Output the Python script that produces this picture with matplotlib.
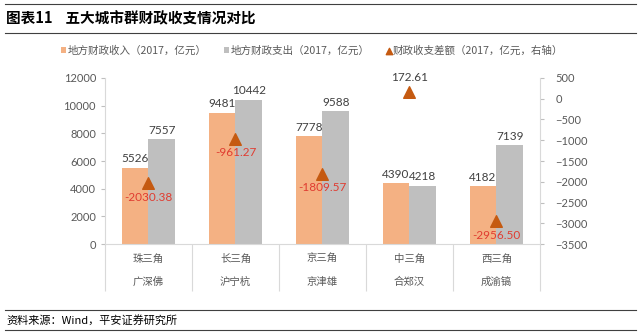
import matplotlib
matplotlib.use("Agg")
import matplotlib.pyplot as plt
import numpy as np
from matplotlib.lines import Line2D

plt.rcParams['font.family'] = ['Noto Sans CJK SC', 'DejaVu Sans']

# 数据
regions = ['珠三角', '长三角', '京三角', '中三角', '西三角']
cities = ['广深佛', '沪宁杭', '京津雄', '合郑汉', '成渝镐']
revenue = [5526, 9481, 7778, 4390, 4182]
expense = [7557, 10442, 9588, 4218, 7139]
gap = [-2030.38, -961.27, -1809.57, 172.61, -2956.50]
gap_labels = ['-2030.38', '-961.27', '-1809.57', '172.61', '-2956.50']

c_rev = '#F4B183'
c_exp = '#BFBFBF'
c_gap = '#C55A11'
txt = '#404040'
num_font = ['Lato', 'DejaVu Sans']

fig = plt.figure(figsize=(6.41, 3.35), dpi=100)

# 标题与分隔线
fig.add_artist(Line2D([0.008, 0.992], [0.988, 0.988], color='#404040', lw=0.8))
fig.add_artist(Line2D([0.008, 0.992], [0.902, 0.902], color='#404040', lw=0.8))
fig.text(0.01, 0.946, '图表11    五大城市群财政收支情况对比', fontsize=10.5,
         fontweight='bold', va='center', ha='left', color='#000000')
fig.add_artist(Line2D([0.008, 0.992], [0.075, 0.075], color='#404040', lw=0.8))
fig.add_artist(Line2D([0.008, 0.992], [0.014, 0.014], color='#404040', lw=0.8))
fig.text(0.01, 0.045, '资料来源：Wind，平安证券研究所', fontsize=8, style='italic',
         va='center', ha='left', color='#000000')

ax = fig.add_axes([0.1638, 0.2716, 0.6786, 0.4956])
x = np.arange(len(regions))
w = 0.31
b1 = ax.bar(x - w / 2, revenue, w, color=c_rev, label='地方财政收入（2017，亿元）', zorder=2)
b2 = ax.bar(x + w / 2, expense, w, color=c_exp, label='地方财政支出（2017，亿元）', zorder=2)

for xi, v in zip(x, revenue):
    ax.text(xi - w / 2, v + 250, str(v), ha='center', va='bottom', fontsize=8.5,
            color=txt, family=num_font)
for xi, v in zip(x, expense):
    ax.text(xi + w / 2, v + 250, str(v), ha='center', va='bottom', fontsize=8.5,
            color=txt, family=num_font)

ax.set_xlim(-0.5, len(regions) - 0.5)
ax.set_ylim(0, 12000)
ax.set_yticks(np.arange(0, 12001, 2000))
ax.set_xticks(x)
ax.set_xticklabels([r + '\n' + c for r, c in zip(regions, cities)], fontsize=7.5,
                   color='#595959', linespacing=2.6)
ax.set_xticks(np.arange(-0.5, len(regions), 1), minor=True)
ax.tick_params(axis='x', which='major', length=0, pad=7)
ax.tick_params(axis='x', which='minor', length=34, color='#D9D9D9', width=0.8)
ax.tick_params(axis='y', length=3, color='#BFBFBF', labelsize=8, labelcolor='#595959')
for lab in ax.get_yticklabels():
    lab.set_family(num_font)
for s in ['top', 'right']:
    ax.spines[s].set_visible(False)
ax.spines['left'].set_color('#D9D9D9')
ax.spines['bottom'].set_color('#D9D9D9')

ax2 = ax.twinx()
ax2.set_ylim(-3500, 500)
ax2.set_yticks(np.arange(-3500, 501, 500))
sc = ax2.scatter(x, gap, marker='^', s=70, color=c_gap, zorder=3,
                 label='财政收支差额（2017，亿元，右轴）')
for xi, v, lab in zip(x, gap, gap_labels):
    if v < 0:
        ax2.text(xi, v - 340, lab, ha='center', va='center', fontsize=8.5,
                 color='#E03C31', family=num_font)
    else:
        ax2.text(xi, v + 200, lab, ha='center', va='bottom', fontsize=8.5,
                 color=txt, family=num_font)
ax2.tick_params(axis='y', length=3, pad=8, color='#BFBFBF', labelsize=8,
                labelcolor='#595959')
for lab in ax2.get_yticklabels():
    lab.set_family(num_font)
for s in ['top', 'left', 'bottom']:
    ax2.spines[s].set_visible(False)
ax2.spines['right'].set_color('#D9D9D9')

fig.legend(handles=[b1, b2, sc], loc='center', bbox_to_anchor=(0.487, 0.85), ncol=3,
           frameon=False, fontsize=7.6, handlelength=0.5, handleheight=0.5,
           handletextpad=0.15, columnspacing=1.6, labelcolor='#595959', markerscale=0.55)

fig.savefig('out.png', dpi=100)
